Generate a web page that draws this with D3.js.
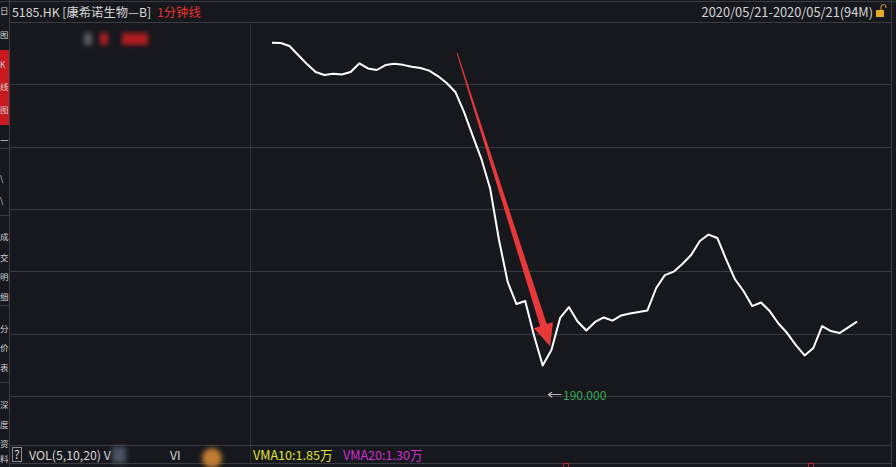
<!DOCTYPE html>
<html>
<head>
<meta charset="utf-8">
<script src="https://cdn.jsdelivr.net/npm/d3@7"></script>
<style>
  html, body { margin: 0; padding: 0; background: #16181d; overflow: hidden; }
  text { font-family: "Noto Sans CJK SC", "Noto Sans", sans-serif; }
</style>
</head>
<body>
<div id="chart"></div>
<script>
// 1-minute closing prices
var prices = [
  210.67, 210.65, 210.46, 209.88, 209.30, 208.79, 208.60, 208.68, 208.63, 208.79,
  209.34, 209.02, 208.92, 209.24, 209.32, 209.25, 209.13, 209.05, 208.88, 208.53,
  208.09, 207.51, 206.22, 204.68, 203.18, 201.28, 198.01, 195.30, 193.90, 194.10,
  191.90, 189.96, 190.95, 193.01, 193.71, 192.78, 192.20, 192.75, 193.04, 192.84,
  193.17, 193.29, 193.39, 193.49, 194.93, 195.76, 195.98, 196.47, 197.05, 197.95,
  198.36, 198.14, 196.79, 195.51, 194.74, 193.77, 194.00, 193.45, 192.65, 192.04,
  191.27, 190.60, 191.08, 192.49, 192.17, 192.04, 192.40, 192.77
];
var gridPrices = [212, 208, 204, 200, 196, 192, 188];
var lowLabel = "190.000";
var titleCode = "5185.HK [康希诺生物—B]";
var titlePeriod = "1分钟线";
var dateRange = "2020/05/21-2020/05/21(94M)";
var sideChars = ["日", "图", "K", "线", "图", "一", "\\", "\\", "成", "交", "明", "细", "分", "价", "表", "深", "度", "资", "料"];
var volLabels = ["VOL(5,10,20) V", "VI", "VMA10:1.85万", "VMA20:1.30万"];
// arrow annotation: [minute index, price]
var arrowFrom = [21.2, 210.0], arrowTo = [31.85, 191.2];

var W = 896, H = 467;
var svg = d3.select("#chart").append("svg")
  .attr("width", W).attr("height", H)
  .style("display", "block");

svg.append("rect").attr("width", W).attr("height", H).attr("fill", "#16181d");

var defs = svg.append("defs");
defs.append("filter").attr("id", "blur").attr("x", "-50%").attr("y", "-50%")
  .attr("width", "200%").attr("height", "200%")
  .append("feGaussianBlur").attr("stdDeviation", 2.5);

var x = d3.scaleLinear().domain([0, prices.length - 1]).range([272, 857]);
var y = d3.scaleLinear().domain([188, 212]).range([396, 22]);

var gridColor = "#393c43";

// frame lines
svg.append("line").attr("x1", 0).attr("x2", W).attr("y1", 1.5).attr("y2", 1.5)
  .attr("stroke", gridColor);
svg.append("line").attr("x1", 9.5).attr("x2", 9.5).attr("y1", 0).attr("y2", H)
  .attr("stroke", gridColor);
svg.append("line").attr("x1", 891.5).attr("x2", 891.5).attr("y1", 0).attr("y2", H)
  .attr("stroke", gridColor);
svg.append("line").attr("x1", 250.5).attr("x2", 250.5).attr("y1", 22).attr("y2", 463)
  .attr("stroke", "#2c2f35");

// price grid
svg.append("g").selectAll("line").data(gridPrices).join("line")
  .attr("x1", 9).attr("x2", 891)
  .attr("y1", function(d) { return Math.round(y(d)) + 0.5; })
  .attr("y2", function(d) { return Math.round(y(d)) + 0.5; })
  .attr("stroke", gridColor);
// volume pane lines
[445.5, 463.5].forEach(function(v) {
  svg.append("line").attr("x1", 9).attr("x2", 891).attr("y1", v).attr("y2", v)
    .attr("stroke", gridColor);
});

// left sidebar
svg.append("rect").attr("x", 0).attr("y", 50).attr("width", 9).attr("height", 75)
  .attr("fill", "#c8191f");
var sideY = [10, 34, 64, 86, 109, 140, 178, 200, 236, 257, 276, 296, 328, 347, 367, 404, 424, 443, 458];
svg.append("g").selectAll("text").data(sideChars).join("text")
  .attr("x", 0).attr("y", function(d, i) { return sideY[i] + 4; })
  .attr("fill", "#d0d0d0").attr("font-size", 8.5)
  .text(function(d) { return d; });
[148, 215, 305, 382].forEach(function(v) {
  svg.append("line").attr("x1", 0).attr("x2", 9).attr("y1", v + 0.5).attr("y2", v + 0.5)
    .attr("stroke", gridColor);
});

// header
svg.append("text").attr("x", 12).attr("y", 17).attr("fill", "#d6d6d6")
  .attr("font-size", 12.3).text(titleCode);
svg.append("text").attr("x", 157).attr("y", 17).attr("fill", "#e8302c")
  .attr("font-size", 12.3).text(titlePeriod);
svg.append("text").attr("x", 873).attr("y", 17).attr("fill", "#d6d6d6")
  .attr("font-size", 12.8).attr("text-anchor", "end").text(dateRange);
svg.append("rect").attr("x", 876).attr("y", 10).attr("width", 8).attr("height", 7)
  .attr("fill", "#e2a82a");
svg.append("path").attr("d", "M881,10 v-3 a2.5,2.5 0 0 1 5,0 v1")
  .attr("fill", "none").attr("stroke", "#e2a82a").attr("stroke-width", 1);

// blurred info text top-left
svg.append("rect").attr("x", 84).attr("y", 33).attr("width", 8).attr("height", 12)
  .attr("fill", "#8a8d93").attr("filter", "url(#blur)").attr("opacity", 0.6);
svg.append("rect").attr("x", 100).attr("y", 33).attr("width", 8).attr("height", 12)
  .attr("fill", "#b01c22").attr("filter", "url(#blur)");
svg.append("rect").attr("x", 122).attr("y", 33).attr("width", 26).attr("height", 12)
  .attr("fill", "#b01c22").attr("filter", "url(#blur)");

// price line
svg.append("path")
  .datum(prices)
  .attr("fill", "none")
  .attr("stroke", "#ffffff")
  .attr("stroke-width", 2)
  .attr("stroke-linejoin", "round")
  .attr("d", d3.line()
    .x(function(d, i) { return x(i); })
    .y(function(d) { return y(d); }));

// red arrow annotation
(function() {
  var x0 = x(arrowFrom[0]), y0 = y(arrowFrom[1]);
  var x1 = x(arrowTo[0]), y1 = y(arrowTo[1]);
  var dx = x1 - x0, dy = y1 - y0, len = Math.sqrt(dx * dx + dy * dy);
  var ux = dx / len, uy = dy / len, nx = -uy, ny = ux;
  var headLen = 22, headW = 10, w0 = 0.5, w1 = 3.5;
  var bx = x1 - ux * headLen, by = y1 - uy * headLen;
  var pts = [
    [x0 + nx * w0, y0 + ny * w0],
    [bx + nx * w1, by + ny * w1],
    [bx + nx * headW, by + ny * headW],
    [x1, y1],
    [bx - nx * headW, by - ny * headW],
    [bx - nx * w1, by - ny * w1],
    [x0 - nx * w0, y0 - ny * w0]
  ];
  svg.append("path").attr("d", d3.line()(pts) + "Z").attr("fill", "#e8383a");
})();

// low price label
svg.append("text").attr("x", 547).attr("y", 400).attr("font-size", 12)
  .attr("fill", "#d0d0d0").attr("textLength", 15).attr("lengthAdjust", "spacingAndGlyphs").text("←");
svg.append("text").attr("x", 563).attr("y", 400).attr("font-size", 12)
  .attr("fill", "#3aa856").text(lowLabel);

// volume pane header
svg.append("rect").attr("x", 12.5).attr("y", 447.5).attr("width", 9).attr("height", 14)
  .attr("fill", "none").attr("stroke", "#8a8d93");
svg.append("text").attr("x", 14).attr("y", 459).attr("font-size", 12).attr("fill", "#d6d6d6").text("?");
svg.append("text").attr("x", 29).attr("y", 460).attr("font-size", 12.3).attr("fill", "#d6d6d6").text(volLabels[0]);
svg.append("rect").attr("x", 112).attr("y", 447).attr("width", 14).attr("height", 16)
  .attr("fill", "#6a7a90").attr("filter", "url(#blur)").attr("opacity", 0.6);
svg.append("text").attr("x", 170).attr("y", 460).attr("font-size", 12.3).attr("fill", "#d6d6d6").text(volLabels[1]);
svg.append("circle").attr("cx", 212).attr("cy", 458).attr("r", 10)
  .attr("fill", "#c07a30").attr("filter", "url(#blur)");
svg.append("text").attr("x", 253).attr("y", 460).attr("font-size", 12.6).attr("fill", "#e2e236").text(volLabels[2]);
svg.append("text").attr("x", 343).attr("y", 460).attr("font-size", 12.6).attr("fill", "#d22ed2").text(volLabels[3]);

// time markers at bottom
[566, 811].forEach(function(v) {
  svg.append("rect").attr("x", v - 2.5).attr("y", 463.5).attr("width", 5).attr("height", 5)
    .attr("fill", "none").attr("stroke", "#c02028");
});
</script>
</body>
</html>
